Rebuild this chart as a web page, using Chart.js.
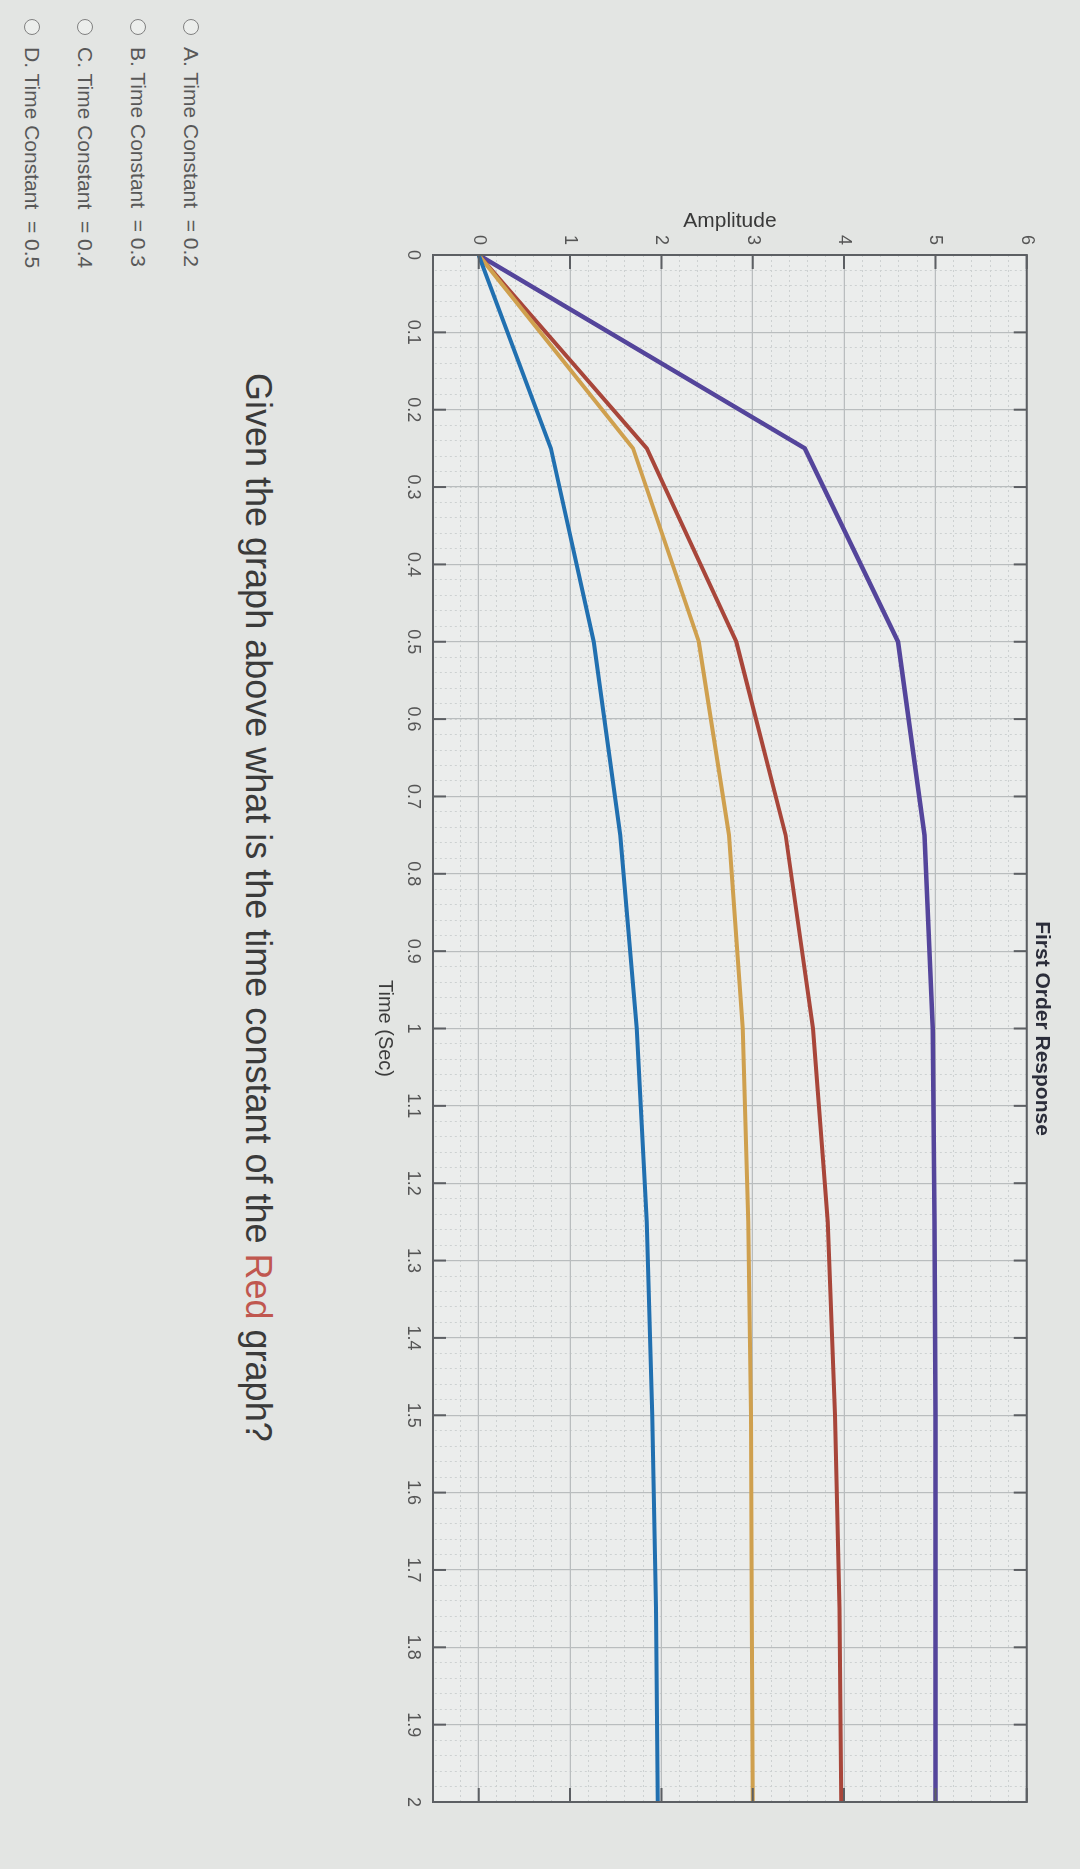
<!DOCTYPE html>
<html>
<head>
<meta charset="utf-8">
<title>First Order Response</title>
<script src="https://cdn.jsdelivr.net/npm/chart.js@4.4.1/dist/chart.umd.min.js"></script>
<style>
  html, body { margin: 0; padding: 0; width: 1080px; height: 1869px; overflow: hidden; background: #e3e5e3; }
  /* the screen was photographed sideways, so the whole page is laid out landscape and turned */
  #page {
    position: absolute; left: 0; top: 0; width: 1869px; height: 1080px;
    transform-origin: 0 0; transform: translate(1080px, 0) rotate(90deg);
    background: #e3e5e3; font-family: "Liberation Sans", Arial, sans-serif;
  }
  #responseChart { position: absolute; left: 0; top: 0; }
  .question { position: absolute; left: 373px; top: 800px; font-size: 36px; line-height: 44px; color: #3a3a3a; white-space: nowrap; }
  .question .red { color: #c0574f; }
  .option { position: absolute; left: 19px; height: 24px; line-height: 24px; font-size: 21px; color: #585858; white-space: nowrap; display: flex; align-items: center; }
  .option .radio { width: 16px; height: 16px; border: 1.5px solid #808080; border-radius: 50%; box-sizing: border-box; margin-right: 12px; background: #eceeec; }
</style>
</head>
<body>
<div id="page">
  <canvas id="responseChart" width="1869" height="720"></canvas>
  <div class="question">Given the graph above what is the time constant of the <span class="red">Red</span> graph?</div>
  <div class="option" style="top:877px"><span class="radio"></span>A. Time Constant&nbsp; = 0.2</div>
  <div class="option" style="top:930px"><span class="radio"></span>B. Time Constant&nbsp; = 0.3</div>
  <div class="option" style="top:983px"><span class="radio"></span>C. Time Constant&nbsp; = 0.4</div>
  <div class="option" style="top:1036px"><span class="radio"></span>D. Time Constant&nbsp; = 0.5</div>
</div>
<script>
const timeSec = [0, 0.25, 0.5, 0.75, 1, 1.25, 1.5, 1.75, 2];
const purpleResponse = [0, 3.57, 4.59, 4.88, 4.97, 4.99, 5.0, 5.0, 5.0];
const redResponse = [0, 1.84, 2.82, 3.36, 3.66, 3.82, 3.90, 3.95, 3.97];
const yellowResponse = [0, 1.69, 2.41, 2.74, 2.89, 2.95, 2.98, 2.99, 3.0];
const blueResponse = [0, 0.79, 1.26, 1.55, 1.73, 1.84, 1.90, 1.94, 1.96];

const timeTicks = [0, 0.1, 0.2, 0.3, 0.4, 0.5, 0.6, 0.7, 0.8, 0.9, 1, 1.1, 1.2, 1.3, 1.4, 1.5, 1.6, 1.7, 1.8, 1.9, 2];
const ampTicks = [0, 1, 2, 3, 4, 5, 6];

document.addEventListener('DOMContentLoaded', function() {
    Chart.defaults.font.family = '"Liberation Sans", Arial, sans-serif';

    function toPoints(values) {
        return timeSec.map((t, i) => ({ x: t, y: values[i] }));
    }

    function line(label, values, color, width) {
        return {
            label: label,
            data: toPoints(values),
            borderColor: color,
            borderWidth: width,
            pointRadius: 0,
            tension: 0,
            fill: false
        };
    }

    // plot face colour
    const plotFace = {
        id: 'plotFace',
        beforeDraw(chart) {
            const a = chart.chartArea;
            const ctx = chart.ctx;
            ctx.save();
            ctx.fillStyle = '#ebedec';
            ctx.fillRect(a.left, a.top, a.right - a.left, a.bottom - a.top);
            ctx.restore();
        }
    };

    // box round the axes with ticks pointing inward, like the original plot
    const boxTicks = {
        id: 'boxTicks',
        afterDraw(chart) {
            const a = chart.chartArea;
            const ctx = chart.ctx;
            const xs = chart.scales.x;
            const ys = chart.scales.y;
            ctx.save();
            ctx.strokeStyle = '#5c5f63';
            ctx.lineWidth = 2;
            ctx.strokeRect(a.left, a.top, a.right - a.left, a.bottom - a.top);
            ctx.beginPath();
            xs.ticks.forEach(t => {
                const px = xs.getPixelForValue(t.value);
                ctx.moveTo(px, a.bottom); ctx.lineTo(px, a.bottom - 13);
                ctx.moveTo(px, a.top); ctx.lineTo(px, a.top + 13);
            });
            ys.ticks.forEach(t => {
                const py = ys.getPixelForValue(t.value);
                ctx.moveTo(a.left, py); ctx.lineTo(a.left + 14, py);
                ctx.moveTo(a.right, py); ctx.lineTo(a.right - 14, py);
            });
            ctx.stroke();
            ctx.restore();
        }
    };

    const ctx = document.getElementById('responseChart').getContext('2d');
    new Chart(ctx, {
        type: 'line',
        data: {
            datasets: [
                line('Blue', blueResponse, '#2170b0', 4),
                line('Yellow', yellowResponse, '#cfa04e', 4),
                line('Red', redResponse, '#a8463a', 4),
                line('Purple', purpleResponse, '#54459b', 4.5)
            ]
        },
        options: {
            responsive: false,
            animation: false,
            devicePixelRatio: 1,
            layout: { padding: { left: 205, right: 67, top: 0, bottom: 9 } },
            plugins: {
                legend: { display: false },
                tooltip: { enabled: false },
                title: {
                    display: true,
                    text: 'First Order Response',
                    fullSize: false,
                    color: '#2b2d3a',
                    font: { size: 21, weight: 'bold' },
                    padding: { top: 26, bottom: 2 }
                }
            },
            scales: {
                xMinor: {
                    type: 'linear',
                    position: 'bottom',
                    min: 0,
                    max: 2,
                    z: -1,
                    ticks: { display: false, stepSize: 0.02 },
                    grid: { color: '#cdd1d1', lineWidth: 1, drawTicks: false },
                    border: { display: false, dash: [2, 3] },
                    afterFit: function(scale) { scale.height = 0; }
                },
                yMinor: {
                    type: 'linear',
                    position: 'left',
                    min: -0.5,
                    max: 6,
                    z: -1,
                    ticks: { display: false, stepSize: 0.2 },
                    grid: { color: '#cdd1d1', lineWidth: 1, drawTicks: false },
                    border: { display: false, dash: [2, 3] },
                    afterFit: function(scale) { scale.width = 0; }
                },
                x: {
                    type: 'linear',
                    position: 'bottom',
                    min: 0,
                    max: 2,
                    afterBuildTicks: function(scale) {
                        scale.ticks = timeTicks.map(v => ({ value: v }));
                    },
                    grid: { color: '#b9bdbe', lineWidth: 1.2, drawTicks: false },
                    border: { display: false },
                    ticks: {
                        padding: 9,
                        color: '#555',
                        font: { size: 18 },
                        maxRotation: 0,
                        autoSkip: false,
                        callback: function(value) { return String(value); }
                    },
                    title: {
                        display: true,
                        text: 'Time (Sec)',
                        color: '#3c3c3c',
                        font: { size: 20 },
                        padding: { top: 4, bottom: 4 }
                    },
                    afterFit: function(scale) { scale.height = 64; }
                },
                y: {
                    type: 'linear',
                    position: 'left',
                    min: -0.5,
                    max: 6,
                    afterBuildTicks: function(scale) {
                        scale.ticks = ampTicks.map(v => ({ value: v }));
                    },
                    grid: { color: '#b9bdbe', lineWidth: 1.2, drawTicks: false },
                    border: { display: false },
                    ticks: {
                        padding: 10,
                        color: '#555',
                        font: { size: 18 },
                        callback: function(value) { return String(value); }
                    },
                    title: {
                        display: true,
                        text: 'Amplitude',
                        color: '#3a3a3a',
                        font: { size: 21 },
                        padding: { top: 4, bottom: 4 }
                    },
                    afterFit: function(scale) { scale.width = 50; }
                }
            }
        },
        plugins: [plotFace, boxTicks]
    });
});
</script>
</body>
</html>
